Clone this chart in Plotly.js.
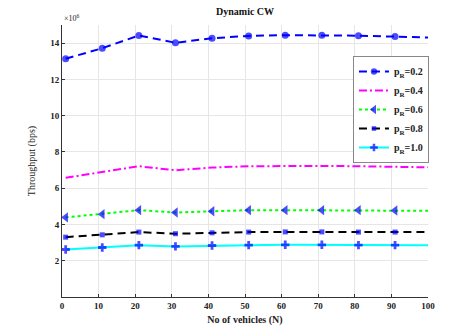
<!DOCTYPE html>
<html>
<head>
<meta charset="utf-8">
<script src="https://cdn.plot.ly/plotly-3.0.1.min.js"></script>
<style>html,body{margin:0;padding:0;background:#fff;}#chart{width:474px;height:335px;}</style>
</head>
<body>
<div id="chart"></div>
<script>
const xVals = [1, 11, 21, 31, 41, 51, 61, 71, 81, 91, 100];
const pR02 = [13.14, 13.72, 14.42, 14.02, 14.27, 14.40, 14.44, 14.44, 14.41, 14.36, 14.31];
const pR04 = [6.57, 6.88, 7.21, 6.99, 7.14, 7.21, 7.23, 7.23, 7.21, 7.19, 7.15];
const pR06 = [4.39, 4.57, 4.79, 4.66, 4.73, 4.79, 4.79, 4.79, 4.79, 4.77, 4.75];
const pR08 = [3.30, 3.43, 3.58, 3.49, 3.54, 3.58, 3.59, 3.59, 3.58, 3.58, 3.58];
const pR10 = [2.62, 2.73, 2.86, 2.79, 2.84, 2.86, 2.88, 2.88, 2.86, 2.86, 2.86];
const seriesNames = ['p<sub>R</sub>=0.2', 'p<sub>R</sub>=0.4', 'p<sub>R</sub>=0.6', 'p<sub>R</sub>=0.8', 'p<sub>R</sub>=1.0'];
const xTicks = [0, 10, 20, 30, 40, 50, 60, 70, 80, 90, 100];
const yTicks = [2, 4, 6, 8, 10, 12, 14];

function msize(s) { return xVals.map((x, i) => i === xVals.length - 1 ? 0 : s); }
const mline = {width: 0};

const traces = [
  {x: xVals, y: pR02, name: seriesNames[0], mode: 'lines+markers',
   line: {color: '#0000ff', dash: '8px,5px', width: 2},
   marker: {symbol: 'circle', size: msize(7), color: '#0000ff', line: mline}},
  {x: xVals, y: pR04, name: seriesNames[1], mode: 'lines',
   line: {color: '#ff00ff', dash: '8px,3px,2px,3px', width: 2}},
  {x: xVals, y: pR06, name: seriesNames[2], mode: 'lines+markers',
   line: {color: '#00ff00', dash: 'dot', width: 2},
   marker: {symbol: 'triangle-left', size: msize(9), color: '#0000ff', line: mline}},
  {x: xVals, y: pR08, name: seriesNames[3], mode: 'lines+markers',
   line: {color: '#000000', dash: '8px,5px', width: 2},
   marker: {symbol: 'square', size: msize(5), color: '#0000ff', line: mline}},
  {x: xVals, y: pR10, name: seriesNames[4], mode: 'lines+markers',
   line: {color: '#00ffff', width: 2},
   marker: {symbol: 'cross', size: msize(7), color: '#0000ff', line: mline}}
];

const fontFam = '"Liberation Serif", "Times New Roman", serif';
const layout = {
  width: 474, height: 335,
  margin: {l: 62, r: 46, t: 25, b: 38},
  paper_bgcolor: '#fff', plot_bgcolor: '#fff',
  font: {family: fontFam, color: '#222', size: 9},
  title: {text: 'Dynamic CW', font: {family: fontFam, size: 10, color: '#111', weight: 'bold'}, x: 0.517, xanchor: 'center', y: 0.965, yanchor: 'middle'},
  xaxis: {
    range: [0, 100], tickvals: xTicks,
    showgrid: true, gridcolor: '#e6e6e6', gridwidth: 1,
    showline: true, linecolor: '#333', linewidth: 1, zeroline: false,
    ticks: 'inside', ticklen: 3, tickcolor: '#333',
    tickfont: {family: fontFam, size: 9, color: '#222', weight: 'bold'},
    title: {text: 'No of vehicles (N)', font: {family: fontFam, size: 10, color: '#222', weight: 'bold'}, standoff: 6}
  },
  yaxis: {
    range: [0, 15], tickvals: yTicks,
    showgrid: true, gridcolor: '#e6e6e6', gridwidth: 1,
    showline: true, linecolor: '#333', linewidth: 1, zeroline: false,
    ticks: 'inside', ticklen: 3, tickcolor: '#333',
    tickfont: {family: fontFam, size: 9, color: '#222', weight: 'bold'},
    title: {text: 'Throughput (bps)', font: {family: fontFam, size: 10, color: '#222'}, standoff: 12}
  },
  legend: {
    x: 0.795, y: 0.886, xanchor: 'left', yanchor: 'top',
    bgcolor: '#fff', bordercolor: '#888', borderwidth: 1,
    font: {family: fontFam, size: 10, color: '#222', weight: 'bold'},
    tracegroupgap: 0, itemwidth: 30
  },
  showlegend: true,
  annotations: [{
    xref: 'paper', yref: 'paper', x: 0, y: 1, xanchor: 'left', yanchor: 'bottom',
    text: '×10<sup>6</sup>', showarrow: false, font: {family: fontFam, size: 8, color: '#222'}
  }]
};
Plotly.newPlot('chart', traces, layout, {displayModeBar: false, staticPlot: true});
</script>
</body>
</html>
